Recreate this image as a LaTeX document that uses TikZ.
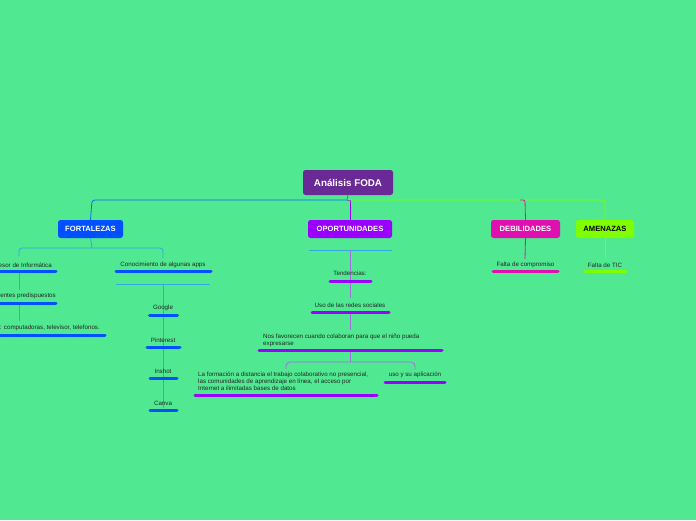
\documentclass[tikz,border=0pt]{standalone}
\usepackage{fontspec}
\setmainfont{Liberation Sans}
\begin{document}
\begin{tikzpicture}[x=1pt,y=-1pt,
  hdr/.style={rounded corners=2.5pt,minimum height=18pt,inner sep=0pt,font=\fontsize{7.6}{8}\selectfont\bfseries,text=white},
  lbl/.style={inner sep=0pt,font=\fontsize{6.2}{7}\selectfont,text=black!85},
  ul/.style={line width=3pt,line cap=round},
  con/.style={line width=0.8pt}]
\definecolor{bg}{HTML}{50E890}
\definecolor{rootc}{HTML}{6A2A96}
\definecolor{fb}{HTML}{0050FF}
\definecolor{op}{HTML}{9900FF}
\definecolor{de}{HTML}{E010B0}
\definecolor{am}{HTML}{80FF00}
\definecolor{lb}{HTML}{30A8E0}
\definecolor{lp}{HTML}{A070E0}
\fill[bg] (0,0) rectangle (696,520);
\useasboundingbox (0,0) rectangle (696,520);
% root
\node[hdr,fill=rootc,minimum width=90pt,minimum height=25pt,font=\fontsize{9.8}{10}\selectfont\bfseries] (root) at (348,182.5) {Análisis FODA};
\node[hdr,fill=fb,minimum width=65pt] (F) at (90.5,229) {FORTALEZAS};
\node[hdr,fill=op,minimum width=84pt] (O) at (350,229) {OPORTUNIDADES};
\node[hdr,fill=de,minimum width=69pt] (D) at (525.5,229) {DEBILIDADES};
\node[hdr,fill=am,minimum width=58pt,text=black] (A) at (605,229) {AMENAZAS};
\coordinate (r0) at (347,200);
\draw[con,rootc!70!am] (root.south) -- (r0);
\draw[con,fb!70!lb,rounded corners=3pt] (r0) -- (92,200) -- (F.north);
\draw[con,op] (r0) -- (350,200) -- (O.north);
\draw[con,am,rounded corners=3pt] (r0) -- (605,200) -- (A.north);
\draw[con,de,rounded corners=2pt] (520,200) -- (525,200) -- (D.north);
% Fortalezas
\draw[con,lb,rounded corners=3pt] (F.south) -- (92,248);
\draw[con,lb,rounded corners=3pt] (19,256) -- (19,248) -- (163,248) -- (163,258);
\node[lbl,anchor=east] (f1) at (52,265) {Profesor de Informática};
\draw[ul,fb] (-5,271) -- (56,271);
\node[lbl,anchor=east] (f2) at (56,296) {Docentes predispuestos};
\draw[ul,fb] (-5,303) -- (56,303);
\node[lbl,anchor=east] (f3) at (100,328) {Equipos: computadoras, televisor, telefonos.};
\draw[ul,fb] (-5,335) -- (105,335);
\draw[con,lb] (19,273) -- (19,290) (19,305) -- (19,321);
\node[lbl] (c0) at (163,265) {Conocimiento de algunas apps};
\draw[ul,fb] (116,271) -- (211,271);
\draw[con,lb] (116,284) -- (210,284) (163,284) -- (163,408);
\node[lbl] (g1) at (163,308) {Google};
\draw[ul,fb] (149.5,315) -- (177.5,315);
\node[lbl] (g2) at (163,340) {Pinterest};
\draw[ul,fb] (147,347) -- (180,347);
\node[lbl] (g3) at (163,371) {Inshot};
\draw[ul,fb] (150,378) -- (177,378);
\node[lbl] (g4) at (163,403) {Canva};
\draw[ul,fb] (150,410) -- (177,410);
% Oportunidades
\draw[con,lb] (309,250) -- (392,250);
\draw[con,lp] (350,250) -- (350,298) (350,313) -- (350,330) (350,350) -- (350,362);
\node[lbl] (o1) at (350,273) {Tendencias:};
\draw[ul,op] (330,281) -- (371,281);
\node[lbl] (o2) at (350,305) {Uso de las redes sociales};
\draw[ul,op] (312,312) -- (389,312);
\node[lbl,anchor=north west,align=left] (o3) at (263,334) {Nos favorecen cuando colaboran para que el niño pueda\\expresarse};
\draw[ul,op] (259,350) -- (442,350);
\draw[con,lp,rounded corners=4pt] (286,369) -- (286,362) -- (415,362) -- (415,369);
\node[lbl,anchor=north west,align=left] (o4) at (198,371.5) {La formación a distancia el trabajo colaborativo no presencial,\\las comunidades de aprendizaje en línea, el acceso por\\Internet a ilimitadas bases de datos};
\draw[ul,op] (195,395) -- (377,395);
\node[lbl] (o5) at (415,375) {uso y su aplicación};
\draw[ul,op] (385,382) -- (445,382);
% Debilidades / Amenazas
\draw[con,de] (D.south) -- (525,259);
\node[lbl] (d1) at (525.5,265) {Falta de compromiso};
\draw[ul,de] (493,271) -- (558,271);
\draw[con,am] (A.south) -- (605,258);
\node[lbl] (a1) at (605,265) {Falta de TIC};
\draw[ul,am] (585,271) -- (626,271);
\end{tikzpicture}
\end{document}
